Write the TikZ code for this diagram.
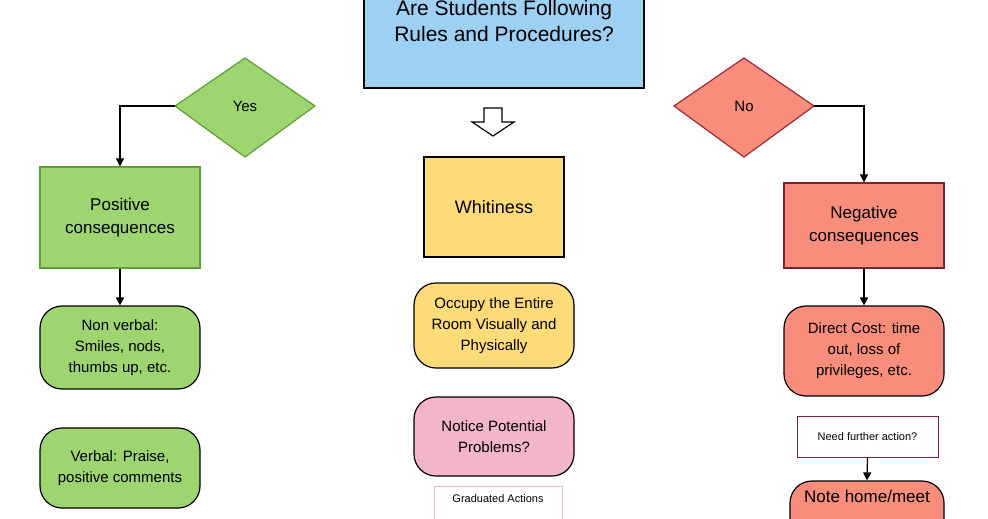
\documentclass[tikz,border=0pt]{standalone}
\usepackage{fontspec}
\setmainfont{Liberation Sans}
\usetikzlibrary{shapes.geometric,arrows.meta}
\definecolor{blu}{HTML}{9DD0F2}
\definecolor{grn}{HTML}{9DD571}
\definecolor{grnd}{HTML}{5E9E38}
\definecolor{yel}{HTML}{FCDB78}
\definecolor{pnk}{HTML}{F3B5C8}
\definecolor{sal}{HTML}{F98D7C}
\definecolor{red}{HTML}{A02838}
\definecolor{wine}{HTML}{7A2434}
\tikzset{
 box/.style={draw=black,line width=1.2pt,inner sep=0pt,align=center},
 gbox/.style={box,fill=grn,draw=grnd},
 rbox/.style={box,fill=sal,draw=red},
 pill/.style={box,rounded corners=22pt},
 dia/.style={draw,line width=1.2pt,inner sep=0pt},
 arr/.style={-{Triangle[length=8pt,width=8pt]},line width=1.2pt},
}
\begin{document}
\begin{tikzpicture}[x=1pt,y=-1pt]
\useasboundingbox (0,0) rectangle (988,519);
\begin{scope}
\clip (0,0) rectangle (988,519);
\node[box,fill=blu,minimum width=280pt,minimum height=100pt,font=\fontsize{21}{26}\selectfont,text depth=34pt] (q) at (504,38) {Are Students Following\\Rules and Procedures?};
\draw[line width=1.2pt,fill=white] (484,108)--(502,108)--(502,122)--(514,122)--(493,136)--(472,122)--(484,122)--cycle;
\coordinate (arrtop) at (493,108);
% left
\draw[dia,fill=grn,draw=grnd] (175,106)--(245,58)--(315,106)--(245,157)--cycle;
\node[font=\fontsize{15}{18}\selectfont] (yes) at (245,106) {Yes};
\coordinate (yl) at (175,106);
\node[gbox,minimum width=160pt,minimum height=101pt,font=\fontsize{17}{23}\selectfont] (pos) at (120,217.5) {Positive\\consequences};
\draw[arr] (yl) -| (pos.north);
\node[gbox,pill,minimum width=160pt,minimum height=83pt,font=\fontsize{15}{21}\selectfont] (nv) at (120,347.5) {Non verbal:\\Smiles, nods,\\thumbs up, etc.};
\draw[arr] (pos.south) -- (nv.north);
\node[gbox,pill,minimum width=160pt,minimum height=80pt,font=\fontsize{15}{21}\selectfont] (vb) at (120,468) {Verbal: Praise,\\positive comments};
% middle
\node[box,fill=yel,minimum width=140pt,minimum height=100pt,font=\fontsize{18}{22}\selectfont] (wh) at (494,207) {Whitiness};
\node[box,fill=yel,pill,minimum width=160pt,minimum height=85pt,font=\fontsize{15}{21}\selectfont] (oc) at (494,325.5) {Occupy the Entire\\Room Visually and\\Physically};
\node[box,fill=pnk,pill,minimum width=160pt,minimum height=79pt,font=\fontsize{15}{21}\selectfont] (np) at (494,436.5) {Notice Potential\\Problems?};
\node[box,draw=pnk,line width=1pt,fill=white,minimum width=128pt,minimum height=50pt,font=\fontsize{11}{13}\selectfont,text depth=25pt] (ga) at (498,511) {Graduated Actions};
% right
\draw[dia,fill=sal,draw=red] (674,106)--(744,58)--(814,106)--(744,157)--cycle;
\node[font=\fontsize{15}{18}\selectfont] (no) at (744,106) {No};
\coordinate (nr) at (814,106);
\node[rbox,draw=wine,minimum width=160pt,minimum height=85pt,font=\fontsize{17}{23}\selectfont] (neg) at (864,225.5) {Negative\\consequences};
\draw[arr] (nr) -| (neg.north);
\node[rbox,pill,minimum width=160pt,minimum height=90pt,font=\fontsize{15}{21}\selectfont] (dc) at (864,351) {Direct Cost: time\\out, loss of\\privileges, etc.};
\draw[arr] (neg.south) -- (dc.north);
\node[box,draw=wine,fill=white,line width=1pt,minimum width=141pt,minimum height=41pt,font=\fontsize{11}{13}\selectfont] (nf) at (867.5,436.5) {Need further action?};
\node[rbox,pill,minimum width=154pt,minimum height=70pt,font=\fontsize{17}{23}\selectfont,text depth=40pt] (nh) at (867,516) {Note home/meet};
\draw[arr] (nf.south) -- (nh.north);
\end{scope}
\end{tikzpicture}
\end{document}
